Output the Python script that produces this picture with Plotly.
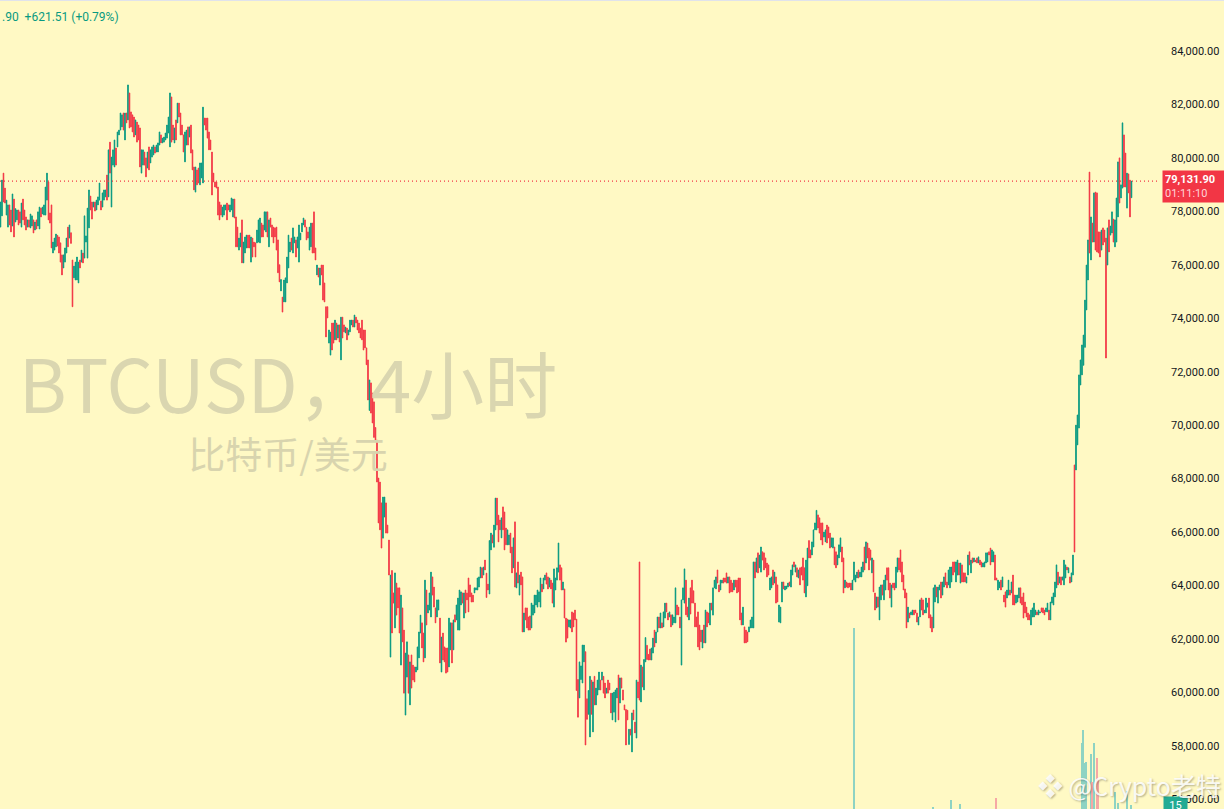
import plotly.graph_objects as go

# ---------------- data (BTCUSD 4-hour bars, prices in thousands of USD) ----------------
bar_open = [
    77.41, 77.83, 79.43, 78.87, 77.86, 77.41, 78.24, 78.05, 77.45, 78.46,
    77.60,
    77.68, 78.05, 77.98, 77.41, 78.46, 78.05, 77.79, 77.41, 77.68, 77.38,
    77.45, 77.68,
    77.30,
    77.68, 77.45, 77.34, 78.12, 77.90, 77.86, 77.86, 78.42,
    79.10, 77.94, 78.24, 76.44, 76.55, 76.67,
    77.10,
    77.04, 76.82, 76.37, 75.88,
    76.10, 76.44, 77.41, 77.00,
    77.20,
    76.18, 75.51, 75.43, 75.43, 75.32, 76.18,
    76.10, 76.44, 76.25, 76.85, 76.25, 77.38, 78.57, 78.35, 78.16, 78.35,
    78.05, 78.24, 78.42, 78.39, 78.16, 78.42, 78.54, 79.36, 78.54, 80.59,
    78.16, 79.73, 79.66, 80.37, 80.41, 80.86, 81.04, 81.16, 81.68, 80.67,
    81.68, 81.42, 82.43, 81.72, 81.61, 81.53, 80.86, 81.34, 81.23, 81.12,
    79.43, 79.73, 80.22, 80.00, 79.62, 80.41, 79.81, 80.03, 80.11, 80.41,
    80.22, 80.22, 80.48, 80.86, 80.56, 80.59, 80.67, 80.74, 80.93, 80.41,
    82.28, 81.23, 80.56, 81.42, 81.31, 82.05, 81.68, 81.23, 80.86, 79.85,
    80.48, 81.16, 80.78, 81.23, 80.30, 79.66, 78.72, 79.55, 79.62, 78.99,
    79.25, 79.06, 81.49, 81.49, 81.49, 80.97, 80.67, 80.22, 79.43, 79.10,
    79.10, 78.91, 78.35, 78.24, 77.79, 77.86, 78.05, 78.31, 78.24, 77.98,
    78.05, 77.79, 78.46, 77.79, 77.41, 76.55, 76.67, 77.68, 76.07, 76.44,
    76.63, 77.11, 77.11, 76.10, 77.00, 76.85, 76.82, 76.82, 76.85, 76.82,
    77.56, 77.49, 77.30, 77.23, 77.98, 76.67, 77.75, 77.49, 77.41, 77.38,
    77.41, 76.93, 76.00, 75.02, 74.79, 74.61, 74.61, 75.32, 75.88, 76.48,
    77.00, 76.44, 76.82, 76.93, 76.63, 76.10, 76.93, 77.23, 77.49, 77.68,
    77.41, 77.23, 76.55, 76.67, 77.56, 77.98, 76.63, 75.62, 75.88, 75.24,
    75.99, 75.99, 75.32, 74.43, 74.43, 73.07, 72.62, 73.82, 73.82, 73.19,
    73.82, 73.26, 73.75, 72.44, 74.04, 73.75, 73.45, 73.63, 73.37, 73.49,
    73.75, 73.93, 73.67, 74.04, 73.93, 73.82, 73.63, 73.93, 73.56, 73.56,
    72.89, 72.44, 70.55, 71.58, 71.20, 70.87, 69.91, 69.44, 68.02, 67.87,
    67.09, 65.77, 66.56, 67.09, 66.26, 65.70, 61.32, 64.56, 63.72, 62.41,
    64.09, 63.91, 63.91, 61.02, 63.16, 62.33, 59.15, 60.57, 61.40, 59.53,
    61.40, 61.02, 60.95, 60.76, 60.84, 61.29, 62.22, 62.60, 62.22, 61.29,
    63.83, 62.97, 63.08, 62.82, 64.32, 63.94, 63.16, 62.82, 63.08, 62.78,
    60.76, 62.22, 61.70, 61.66, 61.66, 60.95, 61.59, 62.60, 61.59, 62.90,
    62.71, 62.33, 62.33, 63.27, 63.72, 62.78, 63.83, 63.72, 64.28, 64.02,
    63.72, 63.64, 63.72, 63.83, 63.83, 63.94, 64.28, 64.66, 64.39, 64.95,
    64.46, 64.05, 63.68, 65.33, 65.89, 65.43, 66.08, 67.27, 66.63, 66.45,
    65.78, 66.94, 66.75, 66.15, 65.52, 65.52, 65.96, 65.44, 64.66, 66.38,
    63.91, 64.88, 63.64, 64.50, 64.32, 62.26, 63.16, 63.16, 62.82, 62.86,
    62.41, 62.89, 62.97, 63.27, 63.19, 63.38, 63.19, 64.05, 63.87, 64.20,
    64.47, 64.32, 63.94, 64.20, 64.09, 63.19, 63.83, 64.20, 64.50, 64.77,
    64.66, 63.83, 63.87, 62.78, 62.74, 62.45, 62.41, 63.01, 62.97, 63.08,
    62.74, 60.48, 59.79, 60.48, 60.35, 61.14, 61.52, 59.76, 59.18, 58.33,
    60.46, 58.52, 60.60, 59.53, 59.90, 60.09, 60.46, 60.46, 60.60, 60.35,
    59.97, 60.46, 60.35, 59.97, 58.97, 59.26, 58.89, 59.79, 60.65, 59.60,
    60.54, 60.09, 59.53, 59.36, 59.33, 58.05, 58.62, 57.77, 59.34, 58.89,
    58.29, 60.39, 64.88, 59.64, 60.95,
    60.09, 61.14, 61.76, 61.42, 61.62, 61.21, 61.47, 62.33, 61.85, 62.26,
    62.82, 62.41, 62.60, 62.45, 62.78, 63.34, 62.97, 62.82, 62.90, 62.52,
    62.60, 62.60, 63.27, 63.19, 62.82, 61.02, 63.46, 63.34, 64.20, 63.19,
    62.71, 63.91, 64.20, 63.80, 63.34, 62.82, 63.01, 62.52, 62.33, 61.66,
    62.52, 61.85, 63.01, 62.97, 62.52, 63.34, 62.89, 63.91, 63.87, 64.58,
    64.02, 63.83, 64.09, 64.28, 64.28, 64.47, 64.09, 64.32, 64.20, 64.09,
    63.83, 64.20, 64.20, 64.28, 64.28, 62.97, 62.52, 62.45, 62.33, 62.26,
    62.26, 62.41, 62.41, 62.41, 64.88, 64.50, 65.22, 64.66, 64.50, 65.26,
    65.22, 65.03, 64.84, 64.77, 63.83, 63.91, 64.58, 64.09, 64.32, 64.02,
    62.63, 62.60, 63.38, 64.13, 63.83, 63.87, 63.94, 64.13, 63.94, 64.39,
    64.88, 64.50, 64.66, 64.28, 64.66, 64.69, 65.03, 64.66, 63.57, 63.99,
    65.68, 65.33, 65.14, 65.44, 66.08, 66.08, 66.64, 66.53, 66.34, 66.34,
    65.81, 65.63, 66.26, 66.19, 65.96, 65.44, 65.40, 65.44, 65.26, 64.77,
    65.03, 65.26, 65.44, 65.03, 63.91, 64.13, 64.09, 64.09, 64.09, 63.83,
    64.20, 64.13, 64.28, 64.58, 64.32, 64.32, 64.50, 65.44, 64.84, 65.59,
    65.40, 65.33, 64.47, 64.95, 63.72, 63.16, 63.57, 62.71, 63.46, 64.02,
    63.46, 63.83, 64.66, 64.66, 64.09, 63.19, 64.09, 64.09, 63.91, 64.50,
    65.03, 65.33, 64.88, 64.39, 63.87, 63.72, 62.63, 62.97, 62.90, 62.90,
    63.08, 63.08, 62.97, 62.52, 62.82, 63.53, 63.46, 62.97, 62.97, 63.19,
    63.53, 62.90, 62.82, 62.41, 63.38, 63.94, 63.34, 63.83, 64.13, 63.64,
    63.94, 64.47, 64.13, 64.02, 63.91, 64.13, 64.88, 64.88, 64.13, 64.39,
    64.84, 64.09, 64.77, 64.47,
    64.47, 64.09, 64.39, 65.26, 64.47, 65.03, 64.88, 64.95, 65.03, 64.84,
    64.95, 64.88, 64.69, 64.69, 64.84, 64.88, 65.26, 65.40, 64.88, 64.88,
    65.14, 64.28, 63.83, 63.91, 64.20, 63.94, 63.64, 63.76, 63.53,
    63.64, 63.83, 63.72, 64.39, 63.64, 63.34, 63.38, 63.53, 63.91, 63.57,
    63.72, 63.38, 63.19, 62.97, 62.90, 62.52, 62.82, 62.82, 62.90, 63.01,
    62.90, 62.97, 63.16, 63.16, 63.08, 63.01, 63.01, 63.08,
    62.71, 63.34, 63.27, 63.57, 63.91, 64.50, 64.09, 64.32, 64.20, 64.02,
    64.28, 64.69, 64.47, 64.32, 64.13, 64.39,
    68.51, 68.32, 69.26, 69.89,
    71.50, 71.88, 72.24, 72.91, 74.31, 75.43, 79.47, 76.18, 77.56, 76.85,
    78.72, 78.69, 77.23, 77.23, 76.55, 77.38, 77.30, 77.00, 75.99, 77.68,
    77.11, 77.19, 77.71, 76.67, 76.85, 77.79, 80.00, 78.50, 78.87, 80.86,
    80.18, 78.12, 79.40, 79.17, 78.51039,
]

bar_close = [
    78.35, 79.17, 78.35, 78.31, 78.42, 78.24, 77.49, 77.23, 78.65, 77.04,
    78.10,
    78.05, 77.49, 77.56, 78.31, 77.68, 77.49, 77.30, 77.68, 77.41, 77.90,
    77.83, 77.19,
    77.60,
    77.34, 77.98, 78.16, 77.79, 78.16, 78.24, 78.91, 79.43,
    77.68, 77.56, 76.63, 76.85, 77.00, 77.15,
    76.70,
    76.44, 76.10, 75.62, 76.37,
    76.63, 77.00, 76.67, 77.49,
    76.80,
    74.43, 75.95, 76.10, 76.29, 76.10, 75.88,
    76.55, 76.07, 77.83, 77.08, 78.12, 78.80, 78.05, 77.71, 78.35, 78.01,
    78.42, 78.54, 79.06, 78.05, 78.69, 78.80, 78.80, 78.42, 80.30, 79.43,
    80.03, 80.30, 80.67, 79.73, 80.97, 81.04, 81.68, 81.61, 81.04, 81.68,
    81.31, 82.73, 81.12, 81.16, 80.97, 80.78, 81.42, 80.59, 80.67, 79.66,
    80.30, 80.30, 79.73, 79.29, 80.22, 79.55, 80.30, 80.41, 80.48, 80.18,
    80.48, 80.56, 80.97, 80.56, 80.74, 80.78, 80.93, 81.23, 81.53, 82.43,
    80.59, 80.67, 81.12, 80.67, 82.05, 81.53, 80.86, 80.86, 80.22, 80.97,
    81.04, 80.48, 81.16, 80.18, 79.55, 78.80, 79.66, 78.99, 79.06, 79.81,
    79.81, 81.90, 81.23, 81.04, 80.74, 80.30, 80.30, 78.61, 79.10, 78.91,
    78.87, 77.86, 77.68, 77.86, 78.16, 78.24, 78.24, 77.68, 78.05, 78.24,
    78.50, 78.46, 77.75, 76.67, 76.67, 77.00, 77.19, 76.07, 76.85, 77.04,
    77.11, 76.63, 76.63, 77.04, 76.29, 76.67, 76.29, 77.30, 77.68, 77.75,
    77.04, 77.04, 77.98, 77.98, 77.04, 77.68, 77.41, 77.04, 76.82, 77.04,
    76.55, 75.70, 75.36, 75.45, 74.23, 75.43, 75.51, 76.29, 77.11, 76.85,
    76.55, 77.38, 77.04, 76.29, 77.04, 77.49, 77.19, 77.56, 77.75, 77.41,
    76.93, 77.00, 77.41, 77.56, 76.44, 76.44, 76.18, 75.99, 75.54, 75.88,
    75.62, 74.68, 74.61, 73.30, 74.01, 73.56, 73.48, 72.81, 73.07, 73.93,
    73.19, 73.75, 73.11, 74.04, 73.26, 73.49, 73.67, 73.19, 73.56, 73.93,
    73.93, 73.67, 74.12, 73.82, 73.56, 73.45, 73.26, 73.19, 72.81, 72.89,
    72.26, 70.94, 71.69, 70.45, 70.08, 69.54, 69.44, 67.87, 66.34, 66.08,
    65.40, 67.31, 67.31, 65.96, 65.96, 64.39, 64.39, 62.22, 63.34, 64.47,
    62.89, 63.16, 62.22, 63.64, 61.89, 59.97, 61.47, 61.89, 59.97, 61.14,
    60.16, 60.46, 60.39, 60.95, 61.70, 62.26, 62.89, 61.66, 61.14, 64.20,
    62.52, 63.27, 63.72, 64.50, 63.64, 63.19, 62.60, 63.46, 63.46, 61.10,
    62.07, 61.21, 61.14, 60.72, 60.76, 62.78, 62.60, 61.10, 62.71, 62.63,
    63.27, 63.53, 63.83, 63.76, 63.34, 63.72, 62.97, 63.46, 63.01, 63.57,
    63.38, 63.38, 63.91, 63.91, 64.28, 64.32, 64.69, 64.28, 64.69, 64.58,
    63.55, 63.83, 65.68, 65.96, 65.59, 66.26, 67.27, 66.26, 65.63, 66.08,
    66.53, 66.08, 65.33, 65.52, 66.08, 65.89, 65.22, 64.47, 65.78, 63.94,
    64.47, 64.09, 64.39, 64.02, 62.26, 62.97, 62.71, 62.41, 62.33, 62.33,
    63.34, 63.27, 63.64, 63.64, 63.83, 63.76, 64.28, 63.76, 64.28, 64.39,
    64.05, 63.87, 64.28, 63.87, 63.34, 64.62, 64.28, 64.66, 65.59, 64.20,
    63.83, 64.13, 62.78, 61.88, 62.03, 62.71, 62.71, 62.26, 62.45, 62.71,
    60.07, 59.07, 61.14, 60.99, 61.77, 61.77, 58.03, 58.99, 60.07, 60.60,
    59.18, 60.39, 59.53, 60.16, 60.46, 60.76, 60.09, 60.76, 59.97, 59.79,
    60.16, 59.97, 60.09, 59.23, 59.97, 60.01, 60.09, 60.16, 58.97, 60.54,
    60.16, 59.71, 59.34, 58.03, 58.97, 58.62, 58.40, 59.23, 58.97, 58.48,
    60.46, 59.79, 59.71, 61.02, 60.20,
    61.23, 62.05, 61.23, 61.21, 61.21, 61.66, 62.03, 61.70, 62.26, 62.82,
    62.41, 62.97, 62.41, 63.01, 63.34, 63.01, 62.71, 63.01, 62.45, 62.90,
    62.82, 63.91, 62.90, 62.90, 62.41, 63.46, 63.91, 64.62, 62.90, 62.82,
    63.53, 62.93, 63.34, 63.34, 62.45, 62.45, 61.70, 61.59, 61.89, 62.33,
    61.85, 63.08, 62.45, 62.60, 63.34, 63.08, 63.91, 64.20, 64.32, 64.09,
    63.76, 64.20, 64.20, 64.09, 64.13, 64.09, 64.32, 63.72, 63.76, 63.76,
    64.20, 63.94, 63.72, 63.76, 62.71, 62.52, 63.19, 61.85, 61.85, 61.89,
    62.45, 62.71, 62.82, 64.88, 64.28, 65.03, 64.47, 65.14, 65.44, 64.95,
    64.58, 64.66, 64.32, 64.39, 64.28, 64.32, 64.02, 64.50, 63.34, 63.38,
    63.27, 63.19, 64.13, 63.87, 63.98, 63.98, 64.09, 63.98, 64.58, 64.77,
    64.69, 64.77, 64.32, 64.58, 64.02, 64.39, 64.20, 63.72, 64.95, 65.40,
    65.03, 65.03, 65.63, 66.08, 66.34, 66.81, 66.15, 65.96, 65.70, 65.52,
    66.00, 66.08, 65.59, 65.78, 65.40, 65.78, 65.78, 64.77, 64.66, 65.14,
    65.52, 65.78, 64.88, 63.72, 64.20, 63.94, 63.91, 63.94, 63.83, 64.20,
    64.88, 64.39, 64.50, 64.28, 64.50, 64.69, 64.88, 64.58, 65.63, 65.03,
    64.58, 64.95, 65.03, 63.76, 63.08, 63.57, 63.19, 63.94, 64.02, 63.64,
    64.20, 64.39, 64.20, 63.83, 63.53, 64.02, 63.91, 63.83, 64.69, 65.03,
    64.58, 64.50, 64.13, 63.83, 63.53, 62.41, 63.19, 62.78, 63.01, 63.08,
    62.90, 62.97, 62.63, 62.82, 63.46, 63.08, 62.90, 63.08, 63.53, 63.34,
    62.78, 62.41, 62.26, 63.91, 64.02, 63.57, 63.94, 64.02, 63.53, 64.13,
    64.32, 64.02, 63.91, 64.58, 64.69, 64.69, 64.39, 64.50, 64.88, 64.95,
    64.39, 64.84, 64.13, 64.13,
    64.13, 64.32, 65.14, 64.77, 64.95, 64.84, 65.03, 64.88, 64.84, 65.07,
    64.77, 64.69, 64.84, 64.88, 65.22, 65.22, 65.14, 64.77, 65.33, 65.26,
    64.20, 64.20, 64.20, 64.13, 63.83, 64.32, 63.38, 63.19, 63.83,
    64.20, 63.64, 64.13, 63.27, 63.27, 63.64, 63.64, 63.91, 63.34, 63.27,
    62.78, 62.97, 62.82, 62.71, 62.71, 63.08, 63.16, 63.34, 63.08, 62.90,
    63.08, 63.01, 63.01, 62.97, 62.90, 63.16, 63.34, 62.71,
    63.38, 63.57, 63.72, 64.13, 64.77, 64.02, 64.32, 64.02, 64.32, 64.95,
    64.77, 64.58, 64.66, 64.09, 64.47, 65.14,
    65.25, 70.00, 70.38, 71.88,
    72.44, 73.00, 73.37, 74.68, 75.99, 76.93, 76.44, 77.79, 76.85, 78.69,
    76.55, 76.48, 76.44, 76.29, 77.30, 76.74, 76.85, 72.51, 77.38, 76.48,
    77.45, 77.98, 76.85, 77.68, 78.50, 79.85, 78.31, 78.99, 81.31, 78.91,
    78.91, 79.43, 78.69, 77.79, 79.1319,
]

# visible volume bars (bar number, volume)
vol_bar_index = [569, 622, 634, 640, 664, 721, 722, 723, 724, 727, 728, 729, 731, 732, 743, 745, 751, 754]
vol_value = [91, 14, 17, 15.5, 18, 41.6, 47.2, 33, 33.5, 37, 25, 41.6, 35, 26, 20.6, 16, 21, 15]

price_ticks = [56000, 58000, 60000, 62000, 64000, 66000, 68000, 70000,
               72000, 74000, 76000, 78000, 80000, 82000, 84000]
last_price = 79131.90
price_change = 621.51
price_change_pct = 0.79
bar_countdown = "01:11:10"
symbol_title = "BTCUSD，4小时"
symbol_desc = "比特币/美元"
author_mark = "@Crypto老特"
vol_label = "15"

# ---------------- styling ----------------
UP, DOWN = "#089981", "#F23645"
UP_VOL, DOWN_VOL = "#8ED3C3", "#F6A8A5"
BG = "#FFF9C4"
W, H = 1224, 809
PLOT_W = 1160
Y_TOP, Y_BOT = 85908, 55635
n = min(len(bar_open), len(bar_close))
X_MIN = -0.33
X_MAX = X_MIN + PLOT_W / 1.5
VOL_PX = 2.33          # pixels per volume unit
VOL_BASE_BELOW = 31    # volume zero line lies this many px below the bottom edge


def px_x(px):
    return X_MIN + px / PLOT_W * (X_MAX - X_MIN)


def px_y(py):
    return Y_TOP - py / H * (Y_TOP - Y_BOT)


opens = [v * 1000 for v in bar_open[:n]]
closes = [v * 1000 for v in bar_close[:n]]
highs = [max(a, b) for a, b in zip(opens, closes)]
lows = [min(a, b) for a, b in zip(opens, closes)]
idx = list(range(n))

fig = go.Figure()

# watermark (beneath the candles)
wm_font = "Noto Sans CJK SC"
fig.add_trace(go.Scatter(x=[px_x(288)], y=[px_y(395)], mode="text", text=[symbol_title],
                         textfont=dict(size=73, color="#DAD6B0", family=wm_font),
                         hoverinfo="skip", showlegend=False, cliponaxis=False))
fig.add_trace(go.Scatter(x=[px_x(288)], y=[px_y(460)], mode="text", text=[symbol_desc],
                         textfont=dict(size=37, color="#D8D4AE", family=wm_font),
                         hoverinfo="skip", showlegend=False, cliponaxis=False))

fig.add_trace(go.Candlestick(
    x=idx, open=opens, high=highs, low=lows, close=closes,
    increasing=dict(line=dict(color=UP, width=1), fillcolor=UP),
    decreasing=dict(line=dict(color=DOWN, width=1), fillcolor=DOWN),
    whiskerwidth=0, hoverinfo="skip", showlegend=False))

vol_colors = [UP_VOL if closes[i] >= opens[i] else DOWN_VOL for i in vol_bar_index]
fig.add_trace(go.Bar(x=vol_bar_index, y=vol_value, yaxis="y2", width=0.7,
                     marker=dict(color=vol_colors, line=dict(width=0)),
                     hoverinfo="skip", showlegend=False))

header = ".90&nbsp;&nbsp;+{:,.2f} (+{:.2f}%)".format(price_change, price_change_pct)
vol_lo = VOL_BASE_BELOW / VOL_PX
vol_hi = vol_lo + H / VOL_PX

fig.update_layout(
    width=W, height=H, autosize=False,
    margin=dict(l=0, r=W - PLOT_W, t=0, b=0, pad=0),
    paper_bgcolor=BG, plot_bgcolor=BG, showlegend=False,
    boxgap=0.5, bargap=0,
    xaxis=dict(range=[X_MIN, X_MAX], visible=False, rangeslider=dict(visible=False)),
    yaxis=dict(range=[Y_BOT, Y_TOP], side="right", tickvals=price_ticks,
               ticktext=["{:,.2f}".format(v) for v in price_ticks],
               showgrid=False, zeroline=False, showline=False, ticks="",
               tickfont=dict(family="Roboto", size=11, color="#131722"),
               ticklabelstandoff=10),
    yaxis2=dict(overlaying="y", range=[vol_lo, vol_hi], visible=False),
    shapes=[
        dict(type="line", xref="paper", x0=0, x1=1, yref="y", y0=last_price, y1=last_price,
             line=dict(color=DOWN, width=1.2, dash="1px,3px")),
        dict(type="line", xref="paper", x0=0, x1=W / PLOT_W, yref="paper", y0=1, y1=1,
             line=dict(color="#E0E3EB", width=2)),
    ],
    annotations=[
        dict(xref="paper", x=0, xanchor="left", yref="paper", y=1, yanchor="middle", yshift=-17,
             text=header, showarrow=False, font=dict(family="Roboto", size=12, color=UP)),
        dict(xref="paper", x=1, xanchor="left", xshift=2, yref="y", y=last_price,
             yanchor="middle", yshift=-5,
             text="<b>{:,.2f}</b><br><span style='color:#FFD3D7'>{}</span>".format(last_price, bar_countdown),
             showarrow=False, bgcolor=DOWN, borderpad=2, width=58, height=27, align="left",
             font=dict(family="Roboto", size=11, color="white")),
        dict(xref="paper", x=1, xanchor="left", xshift=3, yref="y2", y=15, yanchor="middle",
             text=vol_label, showarrow=False, bgcolor="#22AB94", borderpad=2, width=19,
             font=dict(family="Roboto", size=11, color="white")),
        dict(xref="paper", x=1036 / PLOT_W, xanchor="left", yref="paper", y=1 - 785 / H,
             yanchor="middle", text="❖ " + author_mark, showarrow=False,
             font=dict(family=wm_font, size=25, color="rgba(255,255,255,0.88)",
                       shadow="1px 1px 2px rgba(0,0,0,0.35)")),
    ],
)

fig.write_html("out.html", include_plotlyjs=True, config={"displayModeBar": False},
               post_script="document.body.style.margin='0';document.body.style.overflow='hidden';")
